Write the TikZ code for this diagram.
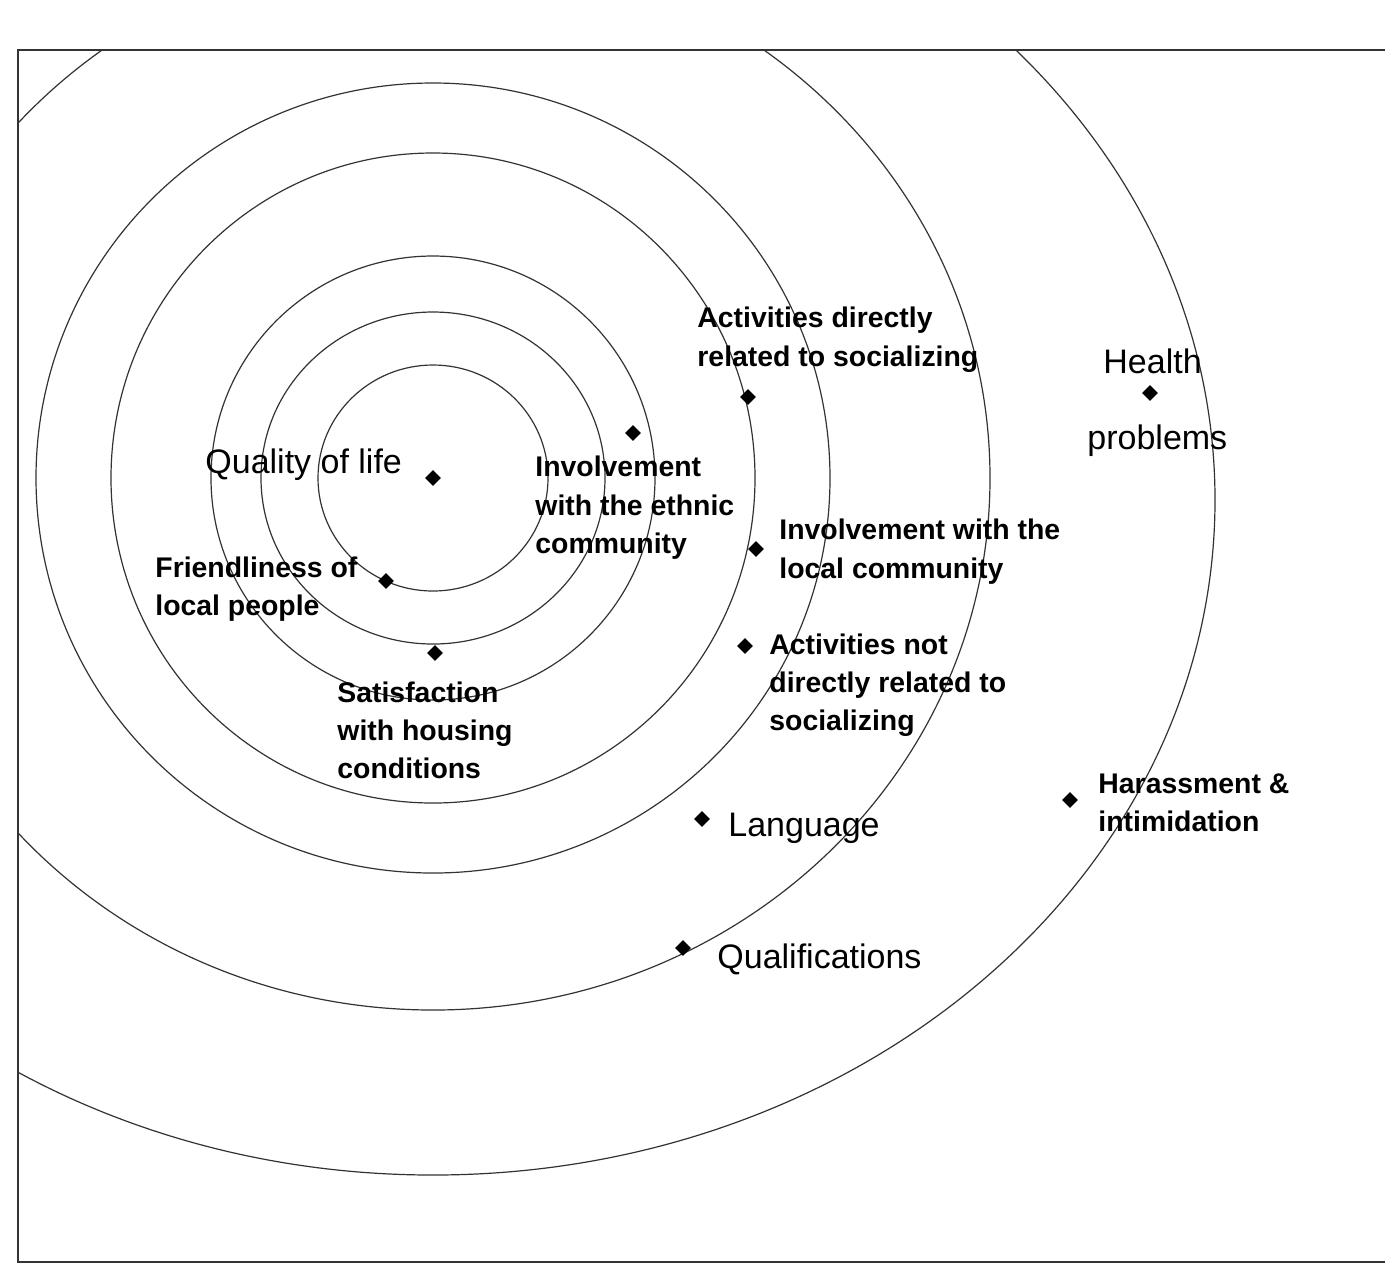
\documentclass[tikz,border=0pt]{standalone}
\usepackage{fontspec}
\setmainfont{Liberation Sans}
\usetikzlibrary{shapes.geometric}
\begin{document}
\begin{tikzpicture}[x=0.5pt,y=-0.5pt,
 dot/.style={fill=black,diamond,inner sep=0pt,minimum size=8pt},
 sm/.style={anchor=west,font=\fontsize{14.2}{19.2}\selectfont\bfseries,align=left,inner sep=0pt},
 lg/.style={anchor=west,font=\fontsize{17}{19}\selectfont,inner sep=0pt},
 ring/.style={draw=black!80,line width=0.6pt}]
\useasboundingbox (0,0) rectangle (1385,1282);
\fill[white] (0,0) rectangle (1385,1282);
\begin{scope}
\clip (18,50) rectangle (1385,1262);
\foreach \rx/\ry in {115/113,172/166,222/222,322/325,397/395,557/532}
  \draw[ring] (433,478) ellipse [x radius=\rx, y radius=\ry];
\draw[ring] (433,500) ellipse [x radius=782, y radius=675];
\end{scope}
\draw[black!80,line width=0.8pt] (1385,50) -- (18,50) -- (18,1262) -- (1385,1262);
% dots
\node[dot] (q) at (433,478) {};
\node[dot] (ie) at (633,433) {};
\node[dot] (ad) at (748,397) {};
\node[dot] (h) at (1150,393) {};
\node[dot] (il) at (756,549) {};
\node[dot] (f) at (386,581) {};
\node[dot] (s) at (435,653) {};
\node[dot] (an) at (745,646) {};
\node[dot] (ha) at (1070,800) {};
\node[dot] (l) at (702,819) {};
\node[dot] (qu) at (683,948) {};
% labels
\node[lg] (tq) at (205,465) {Quality of life};
\node[sm,anchor=north west] (tie) at (535,456) {Involvement\\with the ethnic\\community};
\node[sm,anchor=north west] (tad) at (697,307) {Activities directly\\related to socializing};
\node[lg] (th1) at (1103,361) {Health};
\node[lg] (th2) at (1087,441) {problems};
\node[sm,anchor=north west] (til) at (779,519) {Involvement with the\\local community};
\node[sm,anchor=north west] (tf) at (155,556) {Friendliness of\\local people};
\node[sm,anchor=north west] (ts) at (337,681) {Satisfaction\\with housing\\conditions};
\node[sm,anchor=north west] (tan) at (769,633) {Activities not\\directly related to\\socializing};
\node[sm,anchor=north west] (tha) at (1098,773) {Harassment \&\\intimidation};
\node[lg] (tl) at (728,828) {Language};
\node[lg] (tqu) at (717,959) {Qualifications};
\end{tikzpicture}
\end{document}
